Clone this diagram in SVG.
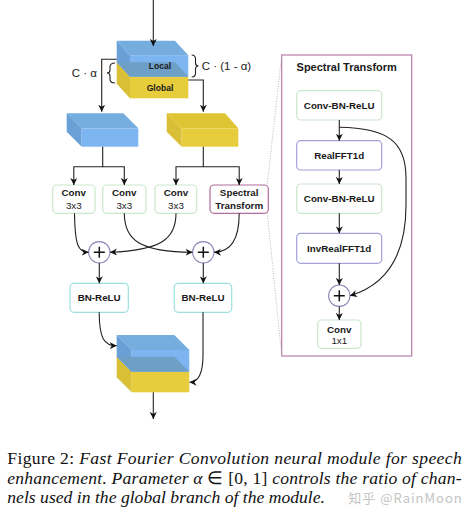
<svg xmlns="http://www.w3.org/2000/svg" width="474" height="514" viewBox="0 0 474 514">
<style>
.ln{fill:none;stroke:#222;stroke-width:1.1}
.dot{fill:none;stroke:#aaa;stroke-width:0.8;stroke-dasharray:1 1.5}
.bx{fill:#fff;stroke-width:1.2}
.g{stroke:#c9e7c9}
.c{stroke:#9fe0df}
.p{stroke:#b06c9c}
.v{stroke:#a3a1da}
.t{font-family:"Liberation Sans",Arial,sans-serif;font-size:9.8px;font-weight:bold;fill:#1a1a1a;text-anchor:middle}
.r{font-family:"Liberation Sans",Arial,sans-serif;font-size:9.8px;fill:#1a1a1a;text-anchor:middle}
.lab{font-family:"Liberation Sans",Arial,sans-serif;font-size:11.5px;fill:#1a1a1a}
.cap{font-family:"Liberation Serif","Times New Roman",serif;font-size:17.6px;fill:#111}
.it{font-style:italic}
.cir{fill:#fff;stroke:#8a86b8;stroke-width:1.1}
.pl{stroke:#111;stroke-width:1.5}
.bf{fill:#7db5f0}.bt{fill:#75addf}.bs{fill:#6aa0d6}
.yf{fill:#e7cd3c}.ys{fill:#d9bf35}.ov{fill:#6e9fc6}
</style>
<defs>
<marker id="a" viewBox="0 0 10 10" refX="10" refY="5" markerWidth="7" markerHeight="7" orient="auto" markerUnits="userSpaceOnUse">
<path d="M0,0 L10,5 L0,10 L3,5 Z" fill="#111"/>
</marker>
</defs>
<rect width="474" height="514" fill="#fff"/>

<g id="input-cube">
<polygon class="ys" points="116.7,62.2 130,76.7 130,98.3 116.7,83.8"/>
<rect class="yf" x="130" y="76.7" width="58.3" height="21.6"/>
<polygon class="bt" points="116.7,40.7 175,40.7 188.3,55.2 130,55.2"/>
<polygon class="bs" points="116.7,40.7 130,55.2 130,76.7 116.7,62.2"/>
<rect class="bf" x="130" y="55.2" width="58.3" height="21.5"/>
<polygon class="ov" points="116.7,62.2 175,62.2 188.3,76.7 130,76.7"/>
<text class="t" x="160" y="69" style="font-size:8.6px">Local</text>
<text class="t" x="160" y="90.5" style="font-size:8.6px">Global</text>
</g>

<g id="braces">
<path class="ln" d="M115 63 Q110 63 110 67 L110 70 Q110 73 107 73 Q110 73 110 76 L110 79 Q110 83 115 83"/>
<path class="ln" d="M191.7 55 Q195.5 55 195.5 59 L195.5 63 Q195.5 66 198.5 66 Q195.5 66 195.5 69 L195.5 73 Q195.5 77 191.7 77"/>
<text class="lab" x="71.7" y="77.3">C · α</text>
<text class="lab" x="201.7" y="70">C · (1 - α)</text>
</g>

<g id="local-block">
<polygon class="bt" points="66.7,113.3 123.3,113.3 138.3,128.3 81.7,128.3"/>
<polygon class="bs" points="66.7,113.3 81.7,128.3 81.7,146.7 66.7,131.7"/>
<rect class="bf" x="81.7" y="128.3" width="56.6" height="18.4"/>
</g>
<g id="global-block">
<polygon class="yf" points="166.7,113.3 225,113.3 238.3,128.3 181.7,128.3" style="fill:#dfc534"/>
<polygon class="ys" points="166.7,113.3 181.7,128.3 181.7,146.7 166.7,131.7"/>
<rect class="yf" x="181.7" y="128.3" width="56.6" height="18.4"/>
</g>

<g id="conv1"><rect class="bx g" x="52.7" y="185" width="42.3" height="28.3" rx="4"/><text class="t" x="73.8" y="196.2">Conv</text><text class="r" x="73.8" y="208.5">3x3</text></g>
<g id="conv2"><rect class="bx g" x="102.7" y="185" width="43.3" height="28.3" rx="4"/><text class="t" x="124.3" y="196.2">Conv</text><text class="r" x="124.3" y="208.5">3x3</text></g>
<g id="conv3"><rect class="bx g" x="155" y="185" width="41.7" height="28.3" rx="4"/><text class="t" x="176" y="196.2">Conv</text><text class="r" x="176" y="208.5">3x3</text></g>
<g id="spectral"><rect class="bx p" x="210" y="185" width="58.3" height="28.3" rx="4"/><text class="t" x="239.2" y="196.2">Spectral</text><text class="t" x="239.2" y="208.5">Transform</text></g>

<g id="plus-left"><circle class="cir" cx="99.3" cy="252.3" r="10.7"/><path class="pl" d="M93.8 252.3 H104.8 M99.3 246.8 V257.8"/></g>
<g id="plus-right"><circle class="cir" cx="203.3" cy="252.3" r="10.7"/><path class="pl" d="M197.8 252.3 H208.8 M203.3 246.8 V257.8"/></g>

<g id="bn-left"><rect class="bx c" x="70" y="283.3" width="58.3" height="29" rx="4"/><text class="t" x="99.2" y="301.3">BN-ReLU</text></g>
<g id="bn-right"><rect class="bx c" x="174.3" y="283.3" width="57.4" height="29" rx="4"/><text class="t" x="203" y="301.3">BN-ReLU</text></g>

<g id="output-cube">
<polygon class="ys" points="116.7,356.7 131.7,371.7 131.7,392.3 116.7,377.3"/>
<rect class="yf" x="131.7" y="371.7" width="57.6" height="20.6"/>
<polygon class="bt" points="116.7,335 174.3,335 189.3,350 131.7,350"/>
<polygon class="bs" points="116.7,335 131.7,350 131.7,371.7 116.7,356.7"/>
<rect class="bf" x="131.7" y="350" width="57.6" height="21.7"/>
<polygon class="ov" points="116.7,356.7 174.3,356.7 189.3,371.7 131.7,371.7"/>
</g>

<g id="spectral-panel">
<rect x="281.7" y="55" width="130" height="301" fill="#fff" stroke="#b87aa8" stroke-width="1.2"/>
<text class="t" x="346.7" y="70.6" style="font-size:11px">Spectral Transform</text>
</g>
<g id="st-conv1"><rect class="bx g" x="296.7" y="90.7" width="85" height="29.3" rx="4"/><text class="t" x="339.2" y="108.8">Conv-BN-ReLU</text></g>
<g id="st-fft"><rect class="bx v" x="296.7" y="140.7" width="85" height="29.3" rx="4"/><text class="t" x="339.2" y="158.8">RealFFT1d</text></g>
<g id="st-conv2"><rect class="bx g" x="296.7" y="184" width="85" height="29.3" rx="4"/><text class="t" x="339.2" y="202.2">Conv-BN-ReLU</text></g>
<g id="st-ifft"><rect class="bx v" x="296.7" y="233.3" width="85" height="30" rx="4"/><text class="t" x="339.2" y="251.8">InvRealFFT1d</text></g>
<g id="st-plus"><circle class="cir" cx="339.3" cy="295.7" r="10.7"/><path class="pl" d="M333.8 295.7 H344.8 M339.3 290.2 V301.2"/></g>
<g id="st-conv1x1"><rect class="bx g" x="317.7" y="320" width="43.3" height="28.3" rx="4"/><text class="t" x="339.3" y="332.5">Conv</text><text class="r" x="339.3" y="344.2">1x1</text></g>

<g id="connectors">
<path class="ln" marker-end="url(#a)" d="M153.3 0 V46"/>
<path class="ln" marker-end="url(#a)" d="M116.7 59.3 H101.7 V111.7"/>
<path class="ln" marker-end="url(#a)" d="M188.3 80 H203.3 V111.7"/>
<path class="ln" marker-end="url(#a)" d="M102.7 146.7 V166.7 H73.8 V185"/>
<path class="ln" marker-end="url(#a)" d="M102.7 166.7 H124.3 V185"/>
<path class="ln" marker-end="url(#a)" d="M203.3 146.7 V166.7 H176 V185"/>
<path class="ln" marker-end="url(#a)" d="M203.3 166.7 H239.2 V185"/>
<path class="ln" marker-end="url(#a)" d="M74.5 213.3 C75 245 78 252.3 88.6 252.3"/>
<path class="ln" marker-end="url(#a)" d="M176 213.3 C176 240 160 250 110 252.3"/>
<path class="ln" marker-end="url(#a)" d="M124.3 213.3 C124.3 240 140 252.3 192.6 252.3"/>
<path class="ln" marker-end="url(#a)" d="M239.2 213.3 C239.2 240 230 252.3 214 252.3"/>
<path class="ln" marker-end="url(#a)" d="M99.3 263 V283.3"/>
<path class="ln" marker-end="url(#a)" d="M203.3 263 V283.3"/>
<path class="ln" marker-end="url(#a)" d="M99.2 312.3 C99.2 338 104 345.7 116.7 345.7"/>
<path class="ln" marker-end="url(#a)" d="M203 312.3 L203 355 C203 375 198 382.3 189.5 382.3"/>
<path class="ln" marker-end="url(#a)" d="M153.3 392.3 V419"/>
<path class="dot" d="M267.3 184 L281.7 55"/>
<path class="dot" d="M267.3 213.3 L281.7 355.7"/>
<path class="ln" marker-end="url(#a)" d="M339.3 120 V140.7"/>
<path class="ln" marker-end="url(#a)" d="M339.3 170 V184"/>
<path class="ln" marker-end="url(#a)" d="M339.3 213.3 V233.3"/>
<path class="ln" marker-end="url(#a)" d="M339.3 263.3 V285"/>
<path class="ln" marker-end="url(#a)" d="M339.3 306.4 V320"/>
<path class="ln" marker-end="url(#a)" d="M339.3 127.3 C388 128 406 142 406 178 L406 205 C406 255 386 285 350 295.7"/>
</g>

<g id="caption">
<text class="cap" x="7.3" y="463.5" textLength="454.4" lengthAdjust="spacing">Figure 2: <tspan class="it">Fast Fourier Convolution neural module for speech</tspan></text>
<text class="cap" x="7.3" y="483.5" textLength="454.4" lengthAdjust="spacing"><tspan class="it">enhancement. Parameter α</tspan> ∈ [0, 1] <tspan class="it">controls the ratio of chan-</tspan></text>
<text class="cap it" x="7.3" y="503" textLength="317.7" lengthAdjust="spacing">nels used in the global branch of the module.</text>
<text x="348.3" y="503" font-family="'Noto Sans CJK SC','Noto Sans',sans-serif" font-size="13" fill="#c4c4c4" textLength="113.4" lengthAdjust="spacing">知乎 @RainMoon</text>
</g>
</svg>
